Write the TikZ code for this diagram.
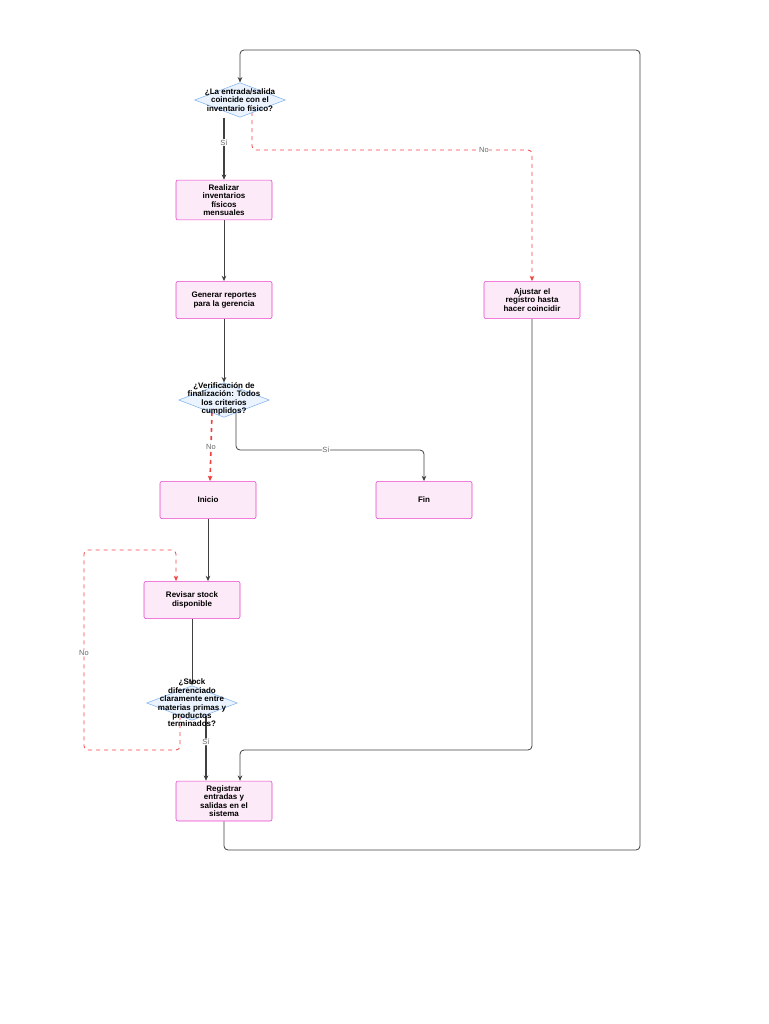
\documentclass[tikz,border=0pt]{standalone}
\usepackage{fontspec}
\setmainfont{Liberation Sans}
\usetikzlibrary{shapes.geometric,arrows.meta,backgrounds}
\definecolor{pk}{HTML}{E83FC8}
\definecolor{pkf}{HTML}{FDEAF8}
\definecolor{bl}{HTML}{7FB2F0}
\definecolor{blf}{HTML}{EAF3FE}
\definecolor{rd}{HTML}{F04040}
\begin{document}
\begin{tikzpicture}[x=0.75pt,y=-0.75pt,
  fnt/.style={font=\fontsize{6}{6.3}\selectfont\bfseries},
  box/.style={fnt,draw=pk,fill=pkf,rounded corners=1.5pt,minimum width=72pt,minimum height=28pt,align=center},
  dec/.style={diamond,draw=bl,fill=blf,minimum width=68pt,minimum height=26pt,aspect=2.7,inner sep=0pt},
  dtxt/.style={fnt,align=center,inner sep=0pt},
  ln/.style={draw=black!75,line width=0.6pt,-{Stealth[length=4pt,width=3.5pt]},rounded corners=3pt},
  no/.style={draw=rd,dashed,line width=0.6pt,-{Stealth[length=4pt,width=3.5pt]},rounded corners=3pt},
  lab/.style={fill=white,inner sep=0.5pt,text=black!60,font=\fontsize{5.6}{6}\selectfont}]
\useasboundingbox (0,0) rectangle (768,1024);
\node[dec] (d1) at (240,100) {};
\node[dtxt] (t1) at (240,100) {¿La entrada/salida\\coincide con el\\inventario físico?};
\node[box] (r1) at (224,200) {Realizar\\inventarios\\físicos\\mensuales};
\node[box] (r2) at (224,300) {Generar reportes\\para la gerencia};
\node[dec] (d2) at (224,400) {};
\node[dtxt] (t2) at (224,399) {¿Verificación de\\finalización: Todos\\los criterios\\cumplidos?};
\node[box] (ini) at (208,500) {Inicio};
\node[box] (fin) at (424,500) {Fin};
\node[box] (rev) at (192,600) {Revisar stock\\disponible};
\node[dec] (d3) at (192,703) {};
\node[dtxt] (t3) at (192,703) {¿Stock\\diferenciado\\claramente entre\\materias primas y\\productos\\terminados?};
\node[box] (reg) at (224,801) {Registrar\\entradas y\\salidas en el\\sistema};
\node[box] (aj) at (532,300) {Ajustar el\\registro hasta\\hacer coincidir};
\coordinate (c1) at (640,50);
\coordinate (c2) at (84,550);
\begin{scope}[on background layer]
\draw[ln,line width=1pt] (r1.north |- d1.south) -- node[lab,pos=0.4]{Sí} (r1.north);
\draw[no] (252,112) |- (484,150) node[lab]{No} -| (aj.north);
\draw[ln] (r1) -- (r2);
\draw[ln] (r2) -- (d2);
\draw[no,line width=1.2pt] (212,412) -- node[lab]{No} (ini.north -| 210,0);
\draw[ln] (236,412) |- (326,450) node[lab]{Sí} -| (fin.north);
\draw[ln] (ini) -- (rev.north -| ini);
\draw[ln] (rev) -- (d3);
\draw[no] (180,716) |- (84,750) -- (84,653) node[lab]{No} -- (c2) -| (rev.north -| 176,0);
\draw[ln,line width=1pt] (206,716) -- node[lab,pos=0.4]{Sí} (reg.north -| 206,0);
\draw[ln] (aj.south) |- (240,750) -- (reg.north -| 240,0);
\draw[ln] (reg.south) |- (640,850) -- (c1) -| (d1.north);
\end{scope}
\end{tikzpicture}
\end{document}
